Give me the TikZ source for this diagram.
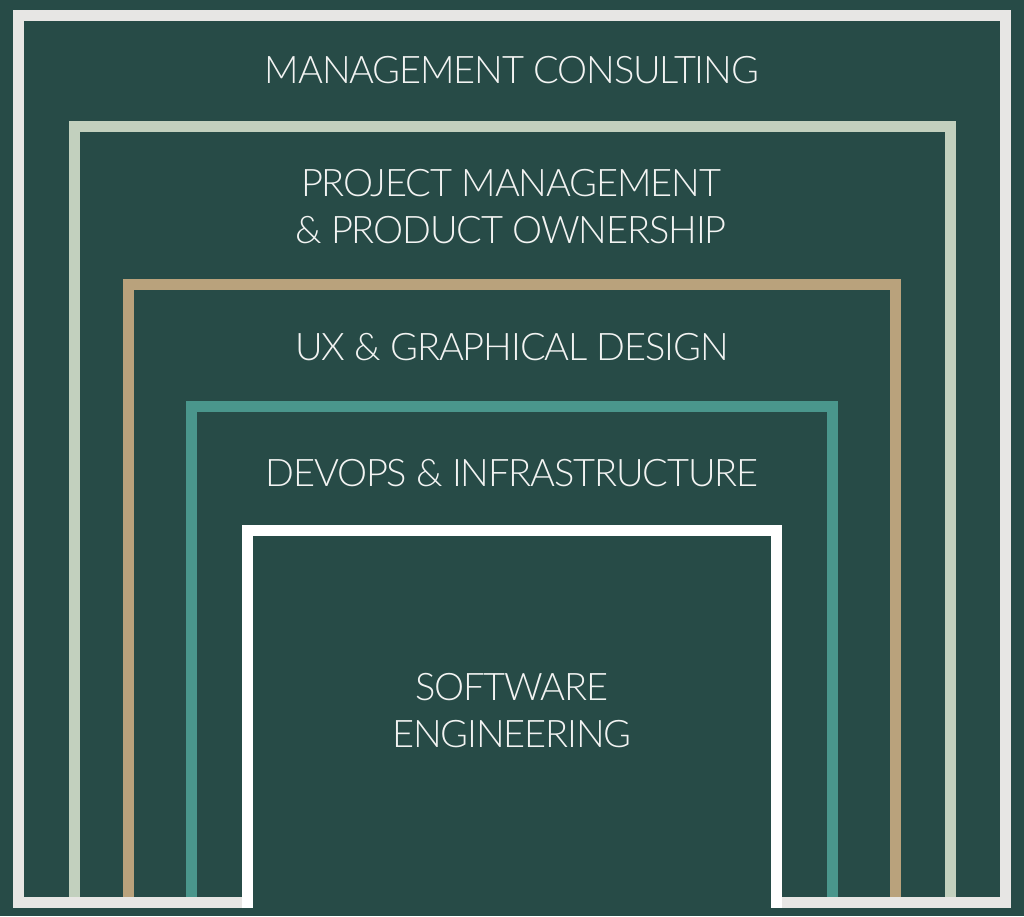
\documentclass[tikz,border=0pt]{standalone}
\usepackage{fontspec}
\setmainfont{Lato Light}[LetterSpace=-3]
\usepackage{xcolor}
\definecolor{bgGreen}{HTML}{274B47}
\definecolor{frameGray}{HTML}{E7E6E4}
\definecolor{frameSage}{HTML}{C2D0BE}
\definecolor{frameTan}{HTML}{B9A27C}
\definecolor{frameTeal}{HTML}{4A968C}
\definecolor{labelWhite}{HTML}{F2F3F2}
\tikzset{
  frame/.style={line width=11pt, line cap=butt, line join=miter},
  layer label/.style={anchor=base, text=labelWhite, inner sep=0pt,
    font=\fontsize{38}{46}\selectfont},
}
\begin{document}
\begin{tikzpicture}[x=1pt,y=-1pt]
                \useasboundingbox (0,0) rectangle (1024,916);
                \fill[bgGreen] (0,0) rectangle (1024,916);
                % nested frames, open at the bottom
                \draw[frame,frameSage] (74,902) -- (74,126.5) -- (950.5,126.5) -- (950.5,902);
                \draw[frame,frameTan] (128.5,902) -- (128.5,284.5) -- (895.5,284.5) -- (895.5,902);
                \draw[frame,frameTeal] (191.5,902) -- (191.5,406) -- (832.5,406) -- (832.5,902);
                \draw[frame,frameGray] (242,902.5) -- (18.5,902.5) -- (18.5,15.5) -- (1005.5,15.5) -- (1005.5,902.5) -- (782,902.5);
                \draw[frame,white] (247.5,908) -- (247.5,530.5) -- (776.5,530.5) -- (776.5,908);
                % labels
                \node[layer label] (consulting) at (512,83) {MANAGEMENT CONSULTING};
                \node[layer label] (project) at (511,196) {PROJECT MANAGEMENT};
                \node[layer label] (product) at (511,243) {\& PRODUCT OWNERSHIP};
                \node[layer label] (design) at (512,360) {UX \& GRAPHICAL DESIGN};
                \node[layer label] (devops) at (512,486) {DEVOPS \& INFRASTRUCTURE};
                \node[layer label] (software) at (512,700) {SOFTWARE};
                \node[layer label] (engineering) at (512,747) {ENGINEERING};
            \end{tikzpicture}
\end{document}
